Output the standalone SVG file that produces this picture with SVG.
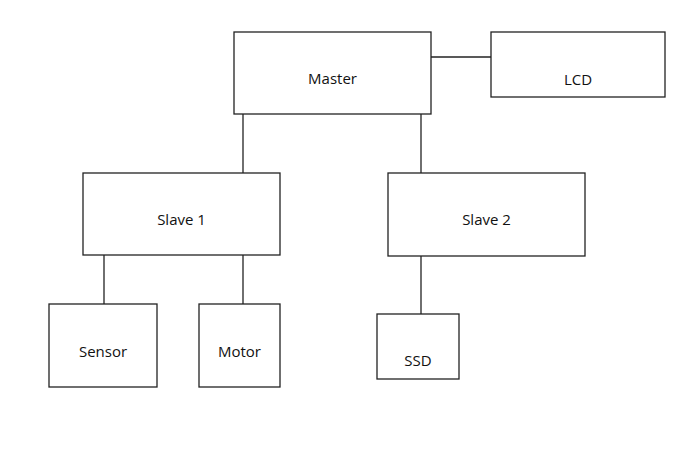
<svg xmlns="http://www.w3.org/2000/svg" width="700" height="451" viewBox="0 0 700 451">
<style>
rect{fill:#fff;stroke:#222;stroke-width:1.3}
line{stroke:#222;stroke-width:1.3}
text{font-family:"Open Sans","Liberation Sans",sans-serif;font-size:15px;fill:#111;text-anchor:middle}
</style>
<rect x="0" y="0" width="700" height="451" style="stroke:none"/>
<g id="connectors">
<line x1="431" y1="57" x2="491" y2="57"/>
<line x1="243" y1="114" x2="243" y2="173"/>
<line x1="421" y1="114" x2="421" y2="173"/>
<line x1="104" y1="255" x2="104" y2="304"/>
<line x1="243" y1="255" x2="243" y2="304"/>
<line x1="421" y1="256" x2="421" y2="314"/>
</g>
<g id="master"><rect x="234" y="32" width="197" height="82"/><text x="332.5" y="84">Master</text></g>
<g id="lcd"><rect x="491" y="32" width="174" height="65"/><text x="578" y="85">LCD</text></g>
<g id="slave1"><rect x="83" y="173" width="197" height="82"/><text x="181.5" y="225">Slave 1</text></g>
<g id="slave2"><rect x="388" y="173" width="197" height="83"/><text x="486.5" y="225">Slave 2</text></g>
<g id="sensor"><rect x="49" y="304" width="108" height="83"/><text x="103" y="357">Sensor</text></g>
<g id="motor"><rect x="199" y="304" width="81" height="83"/><text x="239.5" y="357">Motor</text></g>
<g id="ssd"><rect x="377" y="314" width="82" height="65"/><text x="418" y="366">SSD</text></g>
</svg>
